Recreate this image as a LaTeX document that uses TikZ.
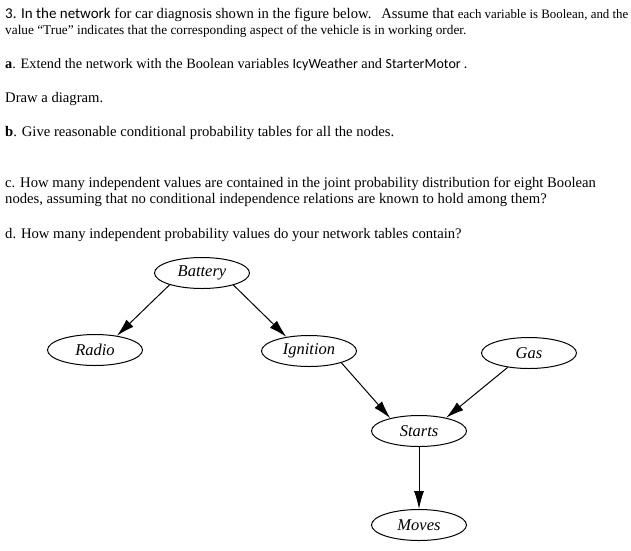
\documentclass[tikz,border=0pt]{standalone}
\usepackage{fontspec}
\setmainfont{Liberation Serif}
\newfontfamily\calib{Carlito}
\usetikzlibrary{shapes.geometric,arrows.meta}
\begin{document}
\begin{tikzpicture}[x=1pt,y=-1pt,
  txt/.style={anchor=base west,inner sep=0pt,font=\fontsize{14.65}{16}\selectfont},
  small/.style={font=\fontsize{13.3}{15}\selectfont},
  var/.style={draw,ellipse,line width=1pt,minimum width=95pt,minimum height=31pt,inner sep=0pt,font=\fontsize{16.5}{18}\selectfont\itshape},
  edge/.style={line width=1pt,-{Latex[length=18pt,width=10pt]}}]
\useasboundingbox (0,0) rectangle (631,550);
\node[txt] (l1) at (5,18) {{\calib\fontsize{15}{16}\selectfont 3. In the network} for car diagnosis shown in the figure below.\hspace{10pt}Assume that {\fontsize{12.9}{15}\selectfont each variable is Boolean, and the}};
\node[txt,small] (l2) at (5,34) {value “True” indicates that the corresponding aspect of the vehicle is in working order.};
\node[txt,font=\fontsize{14.3}{16}\selectfont] (la) at (5,68) {{\bfseries a}. Extend the network with the Boolean variables {\calib\fontsize{14}{16}\selectfont IcyWeather} and {\calib\fontsize{14}{16}\selectfont StarterMotor .}};
\node[txt] (ld) at (5,102) {Draw a diagram.};
\node[txt] (lb) at (5,136) {{\bfseries b}. Give reasonable conditional probability tables for all the nodes.};
\node[txt] (lc1) at (5,187) {c. How many independent values are contained in the joint probability distribution for eight Boolean};
\node[txt] (lc2) at (5,203) {nodes, assuming that no conditional independence relations are known to hold among them?};
\node[txt] (ldd) at (5,238) {d. How many independent probability values do your network tables contain?};

\node[var] (bat) at (202,273) {Battery};
\node[var] (rad) at (95,350) {Radio};
\node[var] (ign) at (309,351) {Ignition};
\node[var] (gas) at (529,353) {Gas};
\node[var] (sta) at (419,431) {Starts};
\node[var] (mov) at (419,525) {Moves};

\draw[edge] (bat.200) -- (rad.33);
\draw[edge] (bat.339) -- (ign.148);
\draw[edge] (ign.340) -- (sta.156);
\draw[edge] (gas.214) -- (sta.26);
\draw[edge] (sta.south) -- (mov.north);
\end{tikzpicture}
\end{document}
